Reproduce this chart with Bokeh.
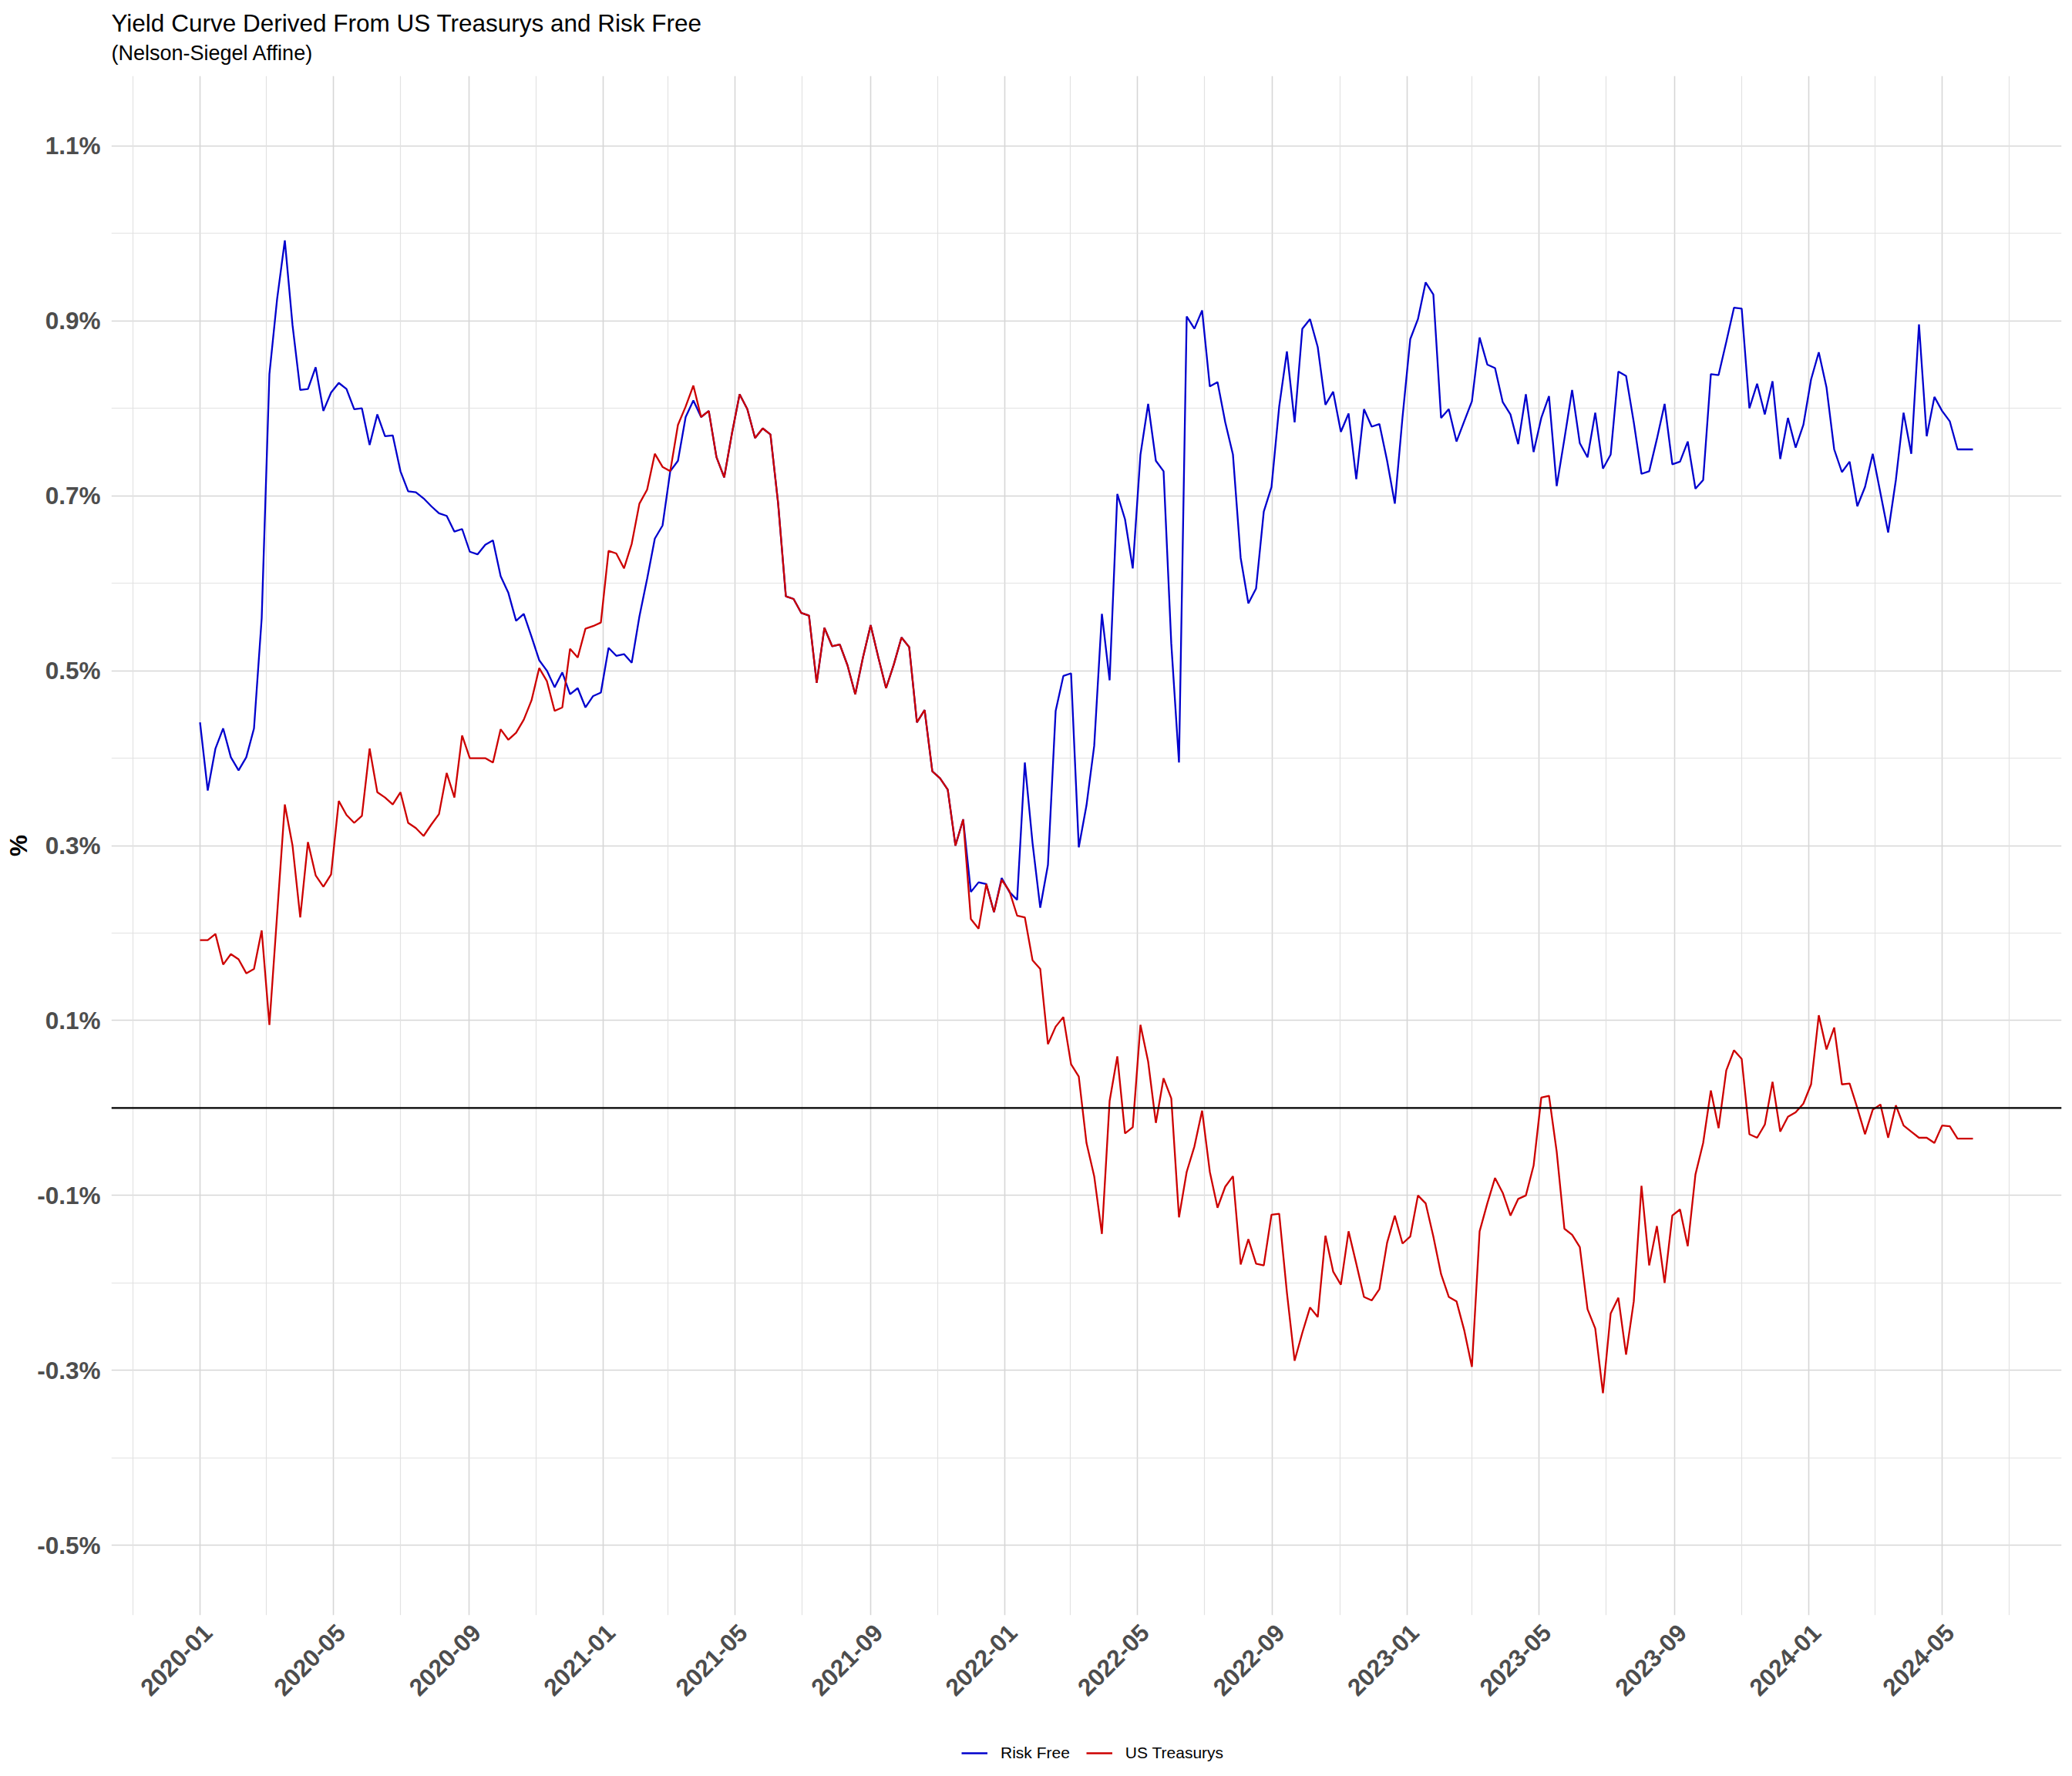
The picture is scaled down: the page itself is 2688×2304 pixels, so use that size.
import math
import pandas as pd
from bokeh.plotting import figure
from bokeh.layouts import column
from bokeh.core.properties import value
from bokeh.models import (Range1d, FixedTicker, Grid, Span, Legend, LegendItem,
                          PrintfTickFormatter)
from bokeh.embed import file_html
from bokeh.resources import INLINE

# Weekly observations (percent), first observation on start_date
start_date = "2020-01-01"

risk_free = [
    0.441, 0.363, 0.411, 0.434, 0.401, 0.386, 0.401, 0.434, 0.560, 0.839,
    0.925, 0.992, 0.895, 0.821, 0.822, 0.847, 0.797, 0.818, 0.829, 0.822,
    0.799, 0.800, 0.758, 0.793, 0.768, 0.769, 0.728, 0.705, 0.704, 0.697,
    0.688, 0.680, 0.677, 0.659, 0.662, 0.636, 0.633, 0.644, 0.649, 0.608,
    0.589, 0.557, 0.565, 0.539, 0.512, 0.500, 0.481, 0.498, 0.473, 0.480,
    0.458, 0.471, 0.475, 0.526, 0.517, 0.519, 0.509, 0.562, 0.605, 0.651,
    0.666, 0.728, 0.740, 0.790, 0.809, 0.790, 0.797, 0.744, 0.721, 0.771,
    0.816, 0.799, 0.766, 0.777, 0.770, 0.691, 0.585, 0.582, 0.566, 0.563,
    0.486, 0.549, 0.528, 0.530, 0.506, 0.473, 0.515, 0.552, 0.515, 0.480,
    0.507, 0.538, 0.527, 0.441, 0.455, 0.385, 0.377, 0.364, 0.300, 0.330,
    0.247, 0.258, 0.256, 0.224, 0.263, 0.247, 0.238, 0.395, 0.303, 0.229,
    0.278, 0.454, 0.494, 0.497, 0.298, 0.346, 0.414, 0.565, 0.489, 0.702,
    0.673, 0.617, 0.747, 0.805, 0.740, 0.728, 0.531, 0.395, 0.905, 0.891,
    0.912, 0.825, 0.830, 0.784, 0.747, 0.629, 0.577, 0.594, 0.682, 0.710,
    0.802, 0.865, 0.784, 0.891, 0.902, 0.870, 0.804, 0.819, 0.773, 0.794,
    0.719, 0.799, 0.779, 0.782, 0.740, 0.691, 0.790, 0.879, 0.902, 0.944,
    0.930, 0.789, 0.799, 0.762, 0.785, 0.808, 0.881, 0.850, 0.846, 0.807,
    0.793, 0.759, 0.816, 0.750, 0.789, 0.814, 0.711, 0.765, 0.821, 0.760,
    0.744, 0.795, 0.731, 0.747, 0.842, 0.837, 0.784, 0.725, 0.728, 0.765,
    0.805, 0.736, 0.739, 0.762, 0.708, 0.718, 0.839, 0.838, 0.876, 0.915,
    0.914, 0.800, 0.828, 0.793, 0.831, 0.742, 0.789, 0.755, 0.781, 0.833,
    0.864, 0.824, 0.753, 0.727, 0.739, 0.688, 0.710, 0.748, 0.703, 0.658,
    0.718, 0.795, 0.748, 0.896, 0.768, 0.813, 0.797, 0.785, 0.753, 0.753,
    0.753,
]

us_treasurys = [
    0.192, 0.192, 0.199, 0.164, 0.176, 0.170, 0.154, 0.159, 0.203, 0.095,
    0.221, 0.347, 0.300, 0.218, 0.304, 0.266, 0.253, 0.267, 0.351, 0.335,
    0.326, 0.334, 0.411, 0.361, 0.355, 0.347, 0.361, 0.326, 0.320, 0.311,
    0.324, 0.336, 0.383, 0.355, 0.426, 0.400, 0.400, 0.400, 0.395, 0.433,
    0.421, 0.429, 0.444, 0.466, 0.503, 0.488, 0.454, 0.458, 0.525, 0.515,
    0.548, 0.551, 0.555, 0.637, 0.634, 0.617, 0.645, 0.691, 0.707, 0.748,
    0.733, 0.728, 0.781, 0.802, 0.826, 0.790, 0.797, 0.744, 0.721, 0.771,
    0.816, 0.799, 0.766, 0.777, 0.770, 0.691, 0.585, 0.582, 0.566, 0.563,
    0.486, 0.549, 0.528, 0.530, 0.506, 0.473, 0.515, 0.552, 0.515, 0.480,
    0.507, 0.538, 0.527, 0.441, 0.455, 0.385, 0.377, 0.364, 0.300, 0.330,
    0.216, 0.205, 0.256, 0.224, 0.261, 0.248, 0.220, 0.218, 0.169, 0.159,
    0.073, 0.093, 0.104, 0.050, 0.036, -0.040, -0.078, -0.144, 0.008, 0.059,
    -0.029, -0.022, 0.095, 0.053, -0.017, 0.034, 0.011, -0.125, -0.073, -0.044,
    -0.003, -0.073, -0.114, -0.090, -0.078, -0.179, -0.150, -0.178, -0.180, -0.122,
    -0.121, -0.211, -0.289, -0.257, -0.228, -0.239, -0.146, -0.187, -0.202, -0.141,
    -0.178, -0.216, -0.220, -0.207, -0.154, -0.123, -0.155, -0.147, -0.100, -0.109,
    -0.147, -0.190, -0.216, -0.221, -0.254, -0.296, -0.141, -0.109, -0.080, -0.097,
    -0.123, -0.104, -0.100, -0.066, 0.012, 0.014, -0.050, -0.138, -0.145, -0.159,
    -0.230, -0.252, -0.326, -0.235, -0.217, -0.282, -0.221, -0.089, -0.180, -0.135,
    -0.200, -0.123, -0.116, -0.158, -0.076, -0.040, 0.020, -0.023, 0.043, 0.066,
    0.056, -0.030, -0.034, -0.019, 0.030, -0.027, -0.010, -0.005, 0.005, 0.027,
    0.106, 0.067, 0.092, 0.027, 0.028, 0.000, -0.030, -0.002, 0.004, -0.034,
    0.003, -0.020, -0.027, -0.034, -0.034, -0.040, -0.020, -0.021, -0.035, -0.035,
    -0.035,
]

series_names = ["Risk Free", "US Treasurys"]
series_colors = ["#0000CD", "#CD0000"]

x_tick_labels = ["2020-01", "2020-05", "2020-09", "2021-01", "2021-05", "2021-09",
                 "2022-01", "2022-05", "2022-09", "2023-01", "2023-05", "2023-09",
                 "2024-01", "2024-05"]
x_minor_months = ["2019-11", "2020-03", "2020-07", "2020-11", "2021-03", "2021-07",
                  "2021-11", "2022-03", "2022-07", "2022-11", "2023-03", "2023-07",
                  "2023-11", "2024-03", "2024-07"]
y_ticks = [-0.5, -0.3, -0.1, 0.1, 0.3, 0.5, 0.7, 0.9, 1.1]
y_minor = [-0.4, -0.2, 0.0, 0.2, 0.4, 0.6, 0.8, 1.0]
y_limits = (-0.5, 1.1)

title_text = "Yield Curve  Derived From US Treasurys and Risk Free"
subtitle_text = "(Nelson-Siegel Affine)"

FONT = "Liberation Sans"
WIDTH, HEIGHT = 2688, 2304
HEAD_H = 98          # title strip above the plot frame
LEGEND_H = 70        # legend strip along the bottom
FRAME_LEFT, FRAME_RIGHT = 144, 14
FRAME_H = 1997
FRAME_W = WIDTH - FRAME_LEFT - FRAME_RIGHT

series = [risk_free, us_treasurys]
dates = pd.date_range(start_date, periods=len(risk_free), freq="7D")

# ranges padded by 5% on each side
span = dates[-1] - dates[0]
x_range = Range1d(dates[0] - 0.05 * span, dates[-1] + 0.05 * span)
pad = 0.05 * (y_limits[1] - y_limits[0])
y_range = Range1d(y_limits[0] - pad, y_limits[1] + pad)


def month_ms(label):
    return pd.Timestamp(label + "-01").value / 1e6


def strip(height, y_top_down=False):
    """A blank figure whose frame lines up with the plot frame, in pixel units."""
    f = figure(width=WIDTH, height=height,
               x_range=Range1d(0, FRAME_W),
               y_range=Range1d(height, 0) if y_top_down else Range1d(0, height),
               x_axis_location=None, y_axis_location=None,
               output_backend="svg", toolbar_location=None, min_border=0,
               background_fill_color="white", border_fill_color="white",
               outline_line_color=None)
    f.grid.visible = False
    return f


# ---- title strip
head = strip(HEAD_H, y_top_down=True)
head.text(x=[0], y=[29], text=[title_text], text_font=value(FONT),
          text_font_size="31.5px", text_color="black",
          text_align="left", text_baseline="alphabetic")
head.text(x=[0], y=[68.5], text=[subtitle_text], text_font=value(FONT),
          text_font_size="27px", text_color="black",
          text_align="left", text_baseline="alphabetic")

# ---- main plot
# slanted labels hang from their tick by their upper right corner
LABEL_NUDGE_MS = 7 * 86400000

p = figure(width=WIDTH, height=HEIGHT - HEAD_H - LEGEND_H, x_axis_type="datetime",
           x_range=x_range, y_range=y_range,
           output_backend="svg", toolbar_location=None,
           min_border_left=FRAME_LEFT, min_border_right=FRAME_RIGHT,
           min_border_top=0, min_border_bottom=HEIGHT - HEAD_H - LEGEND_H - FRAME_H,
           background_fill_color="white", border_fill_color="white",
           outline_line_color=None)

# grid lines
major_color, minor_color = "#D6D6D6", "#E2E2E2"
p.xgrid.ticker = FixedTicker(ticks=[month_ms(m) for m in x_tick_labels])
p.ygrid.ticker = FixedTicker(ticks=y_ticks)
for g in (p.xgrid[0], p.ygrid[0]):
    g.grid_line_color = major_color
    g.grid_line_width = 1.6
p.add_layout(Grid(dimension=0, ticker=FixedTicker(ticks=[month_ms(m) for m in x_minor_months]),
                  grid_line_color=minor_color, grid_line_width=1.2))
p.add_layout(Grid(dimension=1, ticker=FixedTicker(ticks=y_minor),
                  grid_line_color=minor_color, grid_line_width=1.2))

# series
for vals, color in zip(series, series_colors):
    p.line(dates, vals, line_color=color, line_width=2.3)

p.add_layout(Span(location=0, dimension="width", line_color="black", line_width=2.3))

# axes
label_ticks = [month_ms(m) + LABEL_NUDGE_MS for m in x_tick_labels]
p.xaxis.ticker = FixedTicker(ticks=label_ticks)
p.xaxis.major_label_overrides = {t: m for t, m in zip(label_ticks, x_tick_labels)}
p.xaxis.major_label_orientation = math.pi / 4
p.yaxis.ticker = FixedTicker(ticks=y_ticks)
p.yaxis.formatter = PrintfTickFormatter(format="%.1f%%")
p.yaxis.axis_label = "%"
for ax in (p.xaxis[0], p.yaxis[0]):
    ax.axis_line_color = None
    ax.major_tick_line_color = None
    ax.minor_tick_line_color = None
    ax.major_tick_out = 0
    ax.major_tick_in = 0
    ax.major_label_text_font = FONT
    ax.major_label_text_font_style = "bold"
    ax.major_label_text_font_size = "31.5px"
    ax.major_label_text_color = "#4D4D4D"
    ax.axis_label_text_font = FONT
    ax.axis_label_text_font_style = "bold"
    ax.axis_label_text_font_size = "31.5px"
    ax.axis_label_text_color = "black"
p.yaxis.major_label_standoff = 14
p.yaxis.axis_label_standoff = 3
p.xaxis.major_label_standoff = 17

# ---- legend strip; the key lines reuse the series but fall outside this strip's ranges
leg = strip(LEGEND_H)
keys = [leg.line(dates, vals, line_color=c, line_width=2.3)
        for vals, c in zip(series, series_colors)]
legend = Legend(items=[LegendItem(label=n, renderers=[k]) for n, k in zip(series_names, keys)],
                orientation="horizontal", location=(1247 - FRAME_LEFT, 18),
                border_line_color=None, background_fill_alpha=0,
                label_text_font=FONT, label_text_font_size="21px", label_text_color="black",
                glyph_width=34, glyph_height=20, label_standoff=17, spacing=21,
                padding=0, margin=0)
leg.add_layout(legend, "center")

layout = column(head, p, leg, spacing=0)
open("out.html", "w").write(file_html(layout, INLINE))
